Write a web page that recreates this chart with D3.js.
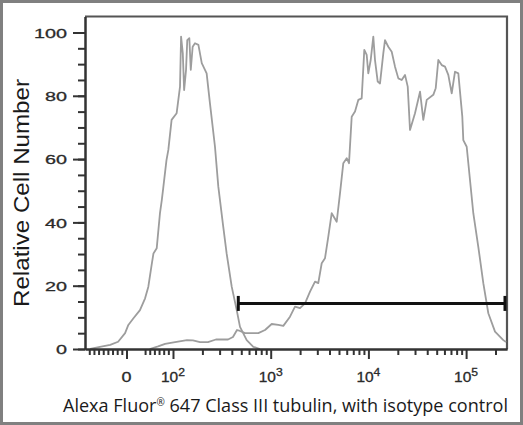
<!DOCTYPE html>
<html><head><meta charset="utf-8">
<script src="https://cdn.jsdelivr.net/npm/d3@7"></script>
<style>body{margin:0;background:#fff}svg{display:block}</style>
</head><body>
<svg id="c" width="523" height="425"></svg>
<script>
// ---- data (fluorescence intensity, relative cell number) ----
const isotypeX = [-78, -57, -35, -18, -3, 4, 15, 29, 40, 47, 54, 58, 65, 68, 72, 76, 79, 86, 90, 97,
  109, 118, 121, 126, 130, 136, 140, 147, 152, 159, 168, 182, 197, 221, 239, 269, 291, 327, 354, 399,
  449, 485, 568, 664, 777];
const isotypeY = [0, 0.7, 1.3, 2.3, 5.0, 7.6, 9.7, 12.3, 16.0, 19.7, 26.5, 30.2, 31.8, 36.6, 42.9, 47.1, 50.8, 59.7, 62.9, 72.4,
  74.5, 82.9, 98.7, 93.4, 81.8, 88.2, 97.6, 98.2, 88.2, 95.5, 96.6, 96.1, 90.3, 87.1, 77.6, 63.9, 51.3, 38.6, 30.2, 19.7,
  12.3, 7.0, 2.8, 0.7, 0];
const tubulinX = [50, 68, 83, 105, 139, 160, 189, 228, 275, 366,
  411, 452, 485, 546, 747, 875, 1024, 1196, 1346, 1576,
  1773, 1995, 2245, 2526, 2841, 3070, 3327, 3596, 3887, 4211,
  4738, 5120, 5535, 5997, 6331, 6747, 7293, 7882, 8538, 9078,
  9607, 9977, 10556, 11225, 11682, 12452, 13145, 14207, 14790, 15980,
  17320, 18720, 20240, 21920, 23690, 25260, 26660, 29990, 33760, 36470,
  39530, 46170, 48860, 51940, 56270, 60810, 65730, 71240, 77000, 83230,
  91440, 93620, 101400, 109600, 118500, 133300, 150000, 168800, 197600, 240300, 256100];
const tubulinY = [0, 0.8, 1.6, 2.2, 2.8, 2.7, 2.2, 2.2, 3.0, 3.0,
  3.8, 6.0, 5.7, 5.0, 5.0, 6.0, 7.9, 7.6, 7.3, 10.2,
  13.4, 12.9, 14.4, 18.1, 21.3, 20.8, 27.1, 28.7, 35.5, 42.9,
  40.2, 49.2, 58.7, 60.3, 58.7, 73.4, 75.0, 78.7, 79.2, 94.5,
  92.9, 87.1, 91.3, 98.7, 91.3, 84.5, 83.9, 93.4, 97.6, 95.5,
  93.9, 89.2, 85.5, 85.0, 86.6, 82.9, 69.2, 74.5, 81.3, 72.4,
  78.7, 80.3, 82.4, 91.3, 89.7, 89.2, 86.6, 80.8, 87.6, 87.1,
  73.4, 66.0, 63.9, 53.4, 42.9, 32.3, 20.8, 11.3, 5.5, 2.8, 2.2];
const gateRange = [466, 250000];
const gateLevel = 14.4;
const yMajorTicks = [0, 20, 40, 60, 80, 100];
const yMinorTicks = d3.range(0, 101, 5);
const xMajorTicks = [0, 100, 1000, 10000, 100000];
const xTickBase = ["0", "10", "10", "10", "10"];
const xTickExp = ["", "2", "3", "4", "5"];
const xMinorTicks = [-80, -70, -60, -50, -40, -30, -20, -10, 40, 50, 60, 70, 80, 90,
  200, 300, 400, 500, 600, 700, 800, 900, 2000, 3000, 4000, 5000, 6000, 7000, 8000, 9000,
  20000, 30000, 40000, 50000, 60000, 70000, 80000, 90000, 200000];
const xDomain = [-89.2, 262144];
const yDomain = [0, 105.05];
const yTitle = "Relative Cell Number";
const xTitleA = "Alexa Fluor", xTitleReg = "\u00AE", xTitleB = " 647 Class III tubulin, with isotype control";

// ---- biexponential-like display transform ----
const LIN_SLOPE = 0.00476;
const g = v => v >= 100 ? Math.log10(v) : 2 + (v - 100) * LIN_SLOPE;

const svg = d3.select("#c");
svg.append("rect").attr("x", 1.5).attr("y", 1.5).attr("width", 520).attr("height", 422)
  .attr("fill", "#fff").attr("stroke", "#808080").attr("stroke-width", 3);

const xs = d3.scaleLinear().domain(xDomain.map(g)).range([85, 507]);
const X = v => xs(g(v));
const ys = d3.scaleLinear().domain(yDomain).range([349, 16.5]);

// plot frame top/right
svg.append("path")
  .attr("d", `M${xs.range()[0]},${ys.range()[1]}H${xs.range()[1]}V${ys.range()[0]}`)
  .attr("fill", "none").attr("stroke", "#555").attr("stroke-width", 2.2);

// curves
const line = d3.line().x(d => X(d[0])).y(d => ys(d[1]));
[[isotypeX, isotypeY], [tubulinX, tubulinY]].forEach(([xa, ya]) => {
  svg.append("path").datum(d3.zip(xa, ya)).attr("d", line)
    .attr("fill", "none").attr("stroke", "#9d9d9d").attr("stroke-width", 1.8)
    .attr("stroke-linejoin", "round");
});

// gate bar
const gy = ys(gateLevel);
const gate = svg.append("g").attr("stroke", "#111").attr("stroke-width", 3);
gate.append("line").attr("x1", X(gateRange[0])).attr("x2", X(gateRange[1])).attr("y1", gy).attr("y2", gy);
gateRange.forEach(v => gate.append("line").attr("x1", X(v)).attr("x2", X(v)).attr("y1", gy - 7.5).attr("y2", gy + 7.5));

function styleAxis(sel) {
  sel.selectAll("path,line").attr("stroke", "#333").attr("stroke-width", 2);
}

// y axis
svg.append("g").attr("transform", "translate(85,0)")
  .call(d3.axisLeft(ys).tickValues(yMinorTicks).tickSize(7).tickSizeOuter(0).tickFormat(""))
  .call(styleAxis);
const yAx = svg.append("g").attr("transform", "translate(85,0)")
  .call(d3.axisLeft(ys).tickValues(yMajorTicks).tickSize(12).tickSizeOuter(0))
  .call(styleAxis);
yAx.selectAll("text")
  .attr("x", -18).attr("dy", "0.36em")
  .attr("font-family", "'Liberation Sans', Arial, sans-serif").attr("font-size", 13.5).attr("fill", "#2a2a2a")
  .attr("stroke", "#2a2a2a").attr("stroke-width", 0.3)
  .attr("textLength", d => String(d).length * 11).attr("lengthAdjust", "spacingAndGlyphs");

// x axis
svg.append("g").attr("transform", "translate(0,349)")
  .call(d3.axisBottom(xs).tickValues(xMinorTicks.map(g)).tickSize(6).tickSizeOuter(0).tickFormat(""))
  .call(styleAxis);
svg.append("g").attr("transform", "translate(0,349)")
  .call(d3.axisBottom(xs).tickValues(xMajorTicks.map(g)).tickSize(10).tickSizeOuter(0).tickFormat(""))
  .call(styleAxis);
xMajorTicks.forEach((v, i) => {
  const t = svg.append("text").attr("x", X(v)).attr("y", 381.5).attr("text-anchor", "middle")
    .attr("font-family", "'Liberation Sans', Arial, sans-serif").attr("font-size", 14).attr("fill", "#2a2a2a")
    .attr("stroke", "#2a2a2a").attr("stroke-width", 0.3)
    .attr("textLength", xTickExp[i] ? 24 : 10).attr("lengthAdjust", "spacingAndGlyphs");
  t.append("tspan").text(xTickBase[i]);
  if (xTickExp[i]) t.append("tspan").attr("font-size", 11).attr("dy", -6).text(xTickExp[i]);
});

// titles
svg.append("text").attr("transform", "translate(29,193) rotate(-90)").attr("text-anchor", "middle")
  .attr("font-family", "'Liberation Sans', Arial, sans-serif").attr("font-size", 22).attr("fill", "#1a1a1a")
  .attr("textLength", 228).attr("lengthAdjust", "spacingAndGlyphs").text(yTitle);
const xt = svg.append("text").attr("x", 63).attr("y", 412)
  .attr("font-family", "'Open Sans', sans-serif").attr("font-size", 18).attr("fill", "#1a1a1a")
  .attr("textLength", 445).attr("lengthAdjust", "spacingAndGlyphs");
xt.append("tspan").text(xTitleA);
xt.append("tspan").attr("font-size", 10).attr("dy", -6).text(xTitleReg);
xt.append("tspan").attr("dy", 6).text(xTitleB);
</script>
</body></html>
